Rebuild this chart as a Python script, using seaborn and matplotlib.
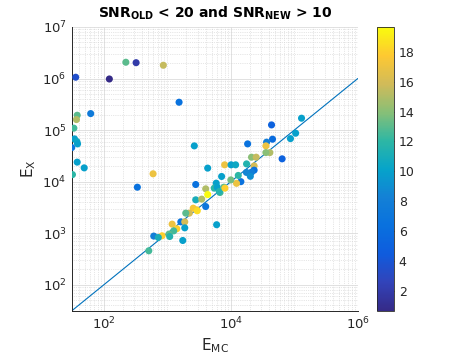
import numpy as np
import pandas as pd
import seaborn as sns
import matplotlib.pyplot as plt
from matplotlib.colors import LinearSegmentedColormap, Normalize
from matplotlib.ticker import LogLocator, NullFormatter
import matplotlib.cm as cm

# values
e_mc = [222, 322, 865, 36, 122, 1530, 62, 38, 37, 33.7, 34.5, 37.6, 38.5, 31.2, 2660,
        38, 49, 32, 596, 4320, 337, 2800, 5890, 5480, 4020, 6750, 2800, 3480, 4320, 4020,
        2900, 2560, 2220, 1950, 5980, 1630, 1880, 1190, 1880, 1410, 1260, 1060, 1090, 826,
        611, 721, 1750, 510, 1.3e5, 4.38e4, 1.05e5, 8.7e4, 4.54e4, 3.66e4, 1.84e4, 3.57e4,
        4.12e4, 3.57e4, 6.43e4, 2.12e4, 2.51e4, 1.77e4, 2.33e4, 8000, 1.01e4, 1.19e4,
        2.33e4, 2.12e4, 1.76e4, 2.03e4, 1.44e4, 1.23e4, 7160, 1.31e4, 1.0e4, 6110, 7780,
        6580, 8070, 2960]
e_x = [2.07e6, 2.03e6, 1.81e6, 1.06e6, 9.8e5, 3.47e5, 2.09e5, 1.94e5, 1.6e5, 1.09e5,
       6.75e4, 5.98e4, 5.4e4, 4.58e4, 4.94e4, 2.39e4, 1.85e4, 1.37e4, 1.42e4, 1.83e4,
       7.8e3, 8.8e3, 9.35e3, 7.48e3, 7.25e3, 6.15e3, 4.44e3, 4.58e3, 5.62e3, 3.29e3,
       2.84e3, 3.06e3, 2.45e3, 2.45e3, 1.46e3, 1.66e3, 1.66e3, 1.5e3, 1.27e3, 1.22e3,
       1.11e3, 960, 863, 891, 879, 826, 722, 456, 1.7e5, 1.26e5, 8.7e4, 6.84e4, 6.66e4,
       5.83e4, 5.4e4, 4.94e4, 3.66e4, 3.66e4, 2.77e4, 2.98e4, 2.98e4, 2.21e4, 2.02e4,
       2.12e4, 2.12e4, 2.12e4, 1.67e4, 1.53e4, 1.51e4, 1.27e4, 1.0e4, 9.27e3, 1.26e4,
       1.32e4, 1.08e4, 7.8e3, 7.8e3, 6.43e3, 7.48e3, 2.72e3]
snr = [13, 2, 15.5, 3.5, 0.67, 6.5, 7.5, 13, 15, 12.5, 10, 10.5, 10, 7, 10, 10, 10, 12,
       17, 10, 6.5, 6.5, 10, 12, 15, 12.5, 11, 15, 19.65, 7, 17, 17.5, 16, 13, 10, 7, 16,
       17, 10, 18, 12.5, 13, 11.5, 18, 8, 11, 10, 12.5, 10, 5, 10, 10, 6, 8, 6.5, 17, 15,
       14, 5, 14, 15.5, 11.5, 16, 17, 10, 10.5, 6.5, 8, 8.5, 9, 6.5, 17, 10, 12, 13.5, 10,
       13, 11.5, 18, 18.5]
ref_line = [31, 1e6]

df = pd.DataFrame({'E_MC': e_mc, 'E_X': e_x, 'SNR': snr})

# parula-like colormap
parula = LinearSegmentedColormap.from_list('parula', [
    (0.2081, 0.1663, 0.5292), (0.1959, 0.2645, 0.7279), (0.0591, 0.3598, 0.8683),
    (0.0329, 0.4430, 0.8720), (0.0779, 0.5040, 0.8384), (0.0231, 0.6418, 0.7913),
    (0.1801, 0.7177, 0.6424), (0.5300, 0.7491, 0.4661), (0.8185, 0.7327, 0.3498),
    (0.9955, 0.7861, 0.1967), (0.9763, 0.9831, 0.0538)])
norm = Normalize(vmin=0.67, vmax=19.65)

sns.set_style('white')
plt.rcParams['font.family'] = ['DejaVu Sans']

fig = plt.figure(figsize=(4.74, 3.55), dpi=100)
ax = fig.add_axes([0.151, 0.124, 0.6038, 0.800])
cax = fig.add_axes([0.7947, 0.124, 0.0365, 0.800])

ax.set_xscale('log')
ax.set_yscale('log')
ax.plot(ref_line, ref_line, color=(0, 0.447, 0.741), lw=0.8, zorder=2)
sns.scatterplot(data=df, x='E_MC', y='E_X', hue='SNR', palette=parula, hue_norm=norm,
                s=26, linewidth=0, legend=False, ax=ax, zorder=3)

ax.set_xlim(31, 1e6)
ax.set_ylim(31, 1e7)
ax.xaxis.set_major_locator(LogLocator(base=100))
ax.xaxis.set_minor_locator(LogLocator(base=10, subs=np.arange(1, 10), numticks=50))
ax.yaxis.set_major_locator(LogLocator(base=10, numticks=20))
ax.yaxis.set_minor_locator(LogLocator(base=10, subs=np.arange(2, 10), numticks=50))
ax.xaxis.set_minor_formatter(NullFormatter())
ax.yaxis.set_minor_formatter(NullFormatter())

ax.grid(True, which='major', color='#dcdcdc', lw=0.6, zorder=0)
ax.grid(True, which='minor', color='#cfcfcf', lw=0.5, ls=':', zorder=0)
ax.set_axisbelow(True)
for s in ['top', 'right']:
    ax.spines[s].set_visible(False)
for s in ['left', 'bottom']:
    ax.spines[s].set_color('#262626')
    ax.spines[s].set_linewidth(0.7)
ax.tick_params(which='both', direction='in', colors='#262626', labelsize=9.5)
ax.tick_params(which='major', length=3, width=0.6)
ax.tick_params(which='minor', length=1.5, width=0.5)

ax.set_xlabel(r'E$_{\mathrm{MC}}$', fontsize=11, color='#262626', labelpad=3)
ax.set_ylabel(r'E$_{\mathrm{X}}$', fontsize=11, color='#262626', labelpad=3)
ax.set_title(r'SNR$_{\mathbf{OLD}}$ < 20 and SNR$_{\mathbf{NEW}}$ > 10',
             fontsize=10, fontweight='bold', color='black', pad=7)

cb = fig.colorbar(cm.ScalarMappable(norm=norm, cmap=parula), cax=cax)
cb.set_ticks([2, 4, 6, 8, 10, 12, 14, 16, 18])
cb.ax.tick_params(labelsize=9, colors='#262626', direction='in', length=2, width=0.5)
cb.outline.set_linewidth(0.6)
cb.outline.set_edgecolor('#262626')

fig.savefig('out.png', dpi=100)
